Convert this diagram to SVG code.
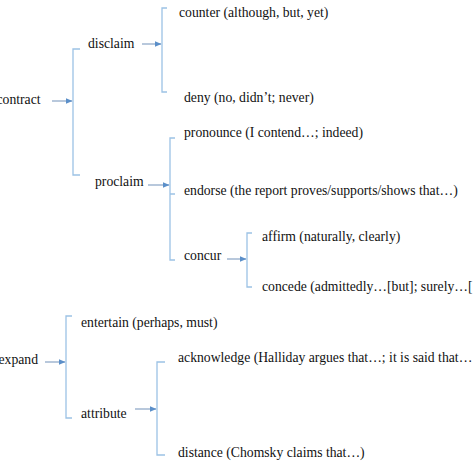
<svg xmlns="http://www.w3.org/2000/svg" width="474" height="474" viewBox="0 0 474 474">
<style>
text{font-family:"Liberation Serif","Times New Roman",serif;font-size:13.7px;fill:#111}
.br{fill:none;stroke:#9cc2e5;stroke-width:1.3}
.ar{fill:none;stroke:#7f9cc0;stroke-width:1.1}
</style>
<defs>
<marker id="ah" markerWidth="7" markerHeight="6" refX="6.5" refY="3" orient="auto" markerUnits="userSpaceOnUse">
<path d="M0,0 L7,3 L0,6 Z" fill="#5b8fc9"/>
</marker>
</defs>
<g id="connectors">
<path class="br" d="M80,49 H73 V175 H80"/>
<path class="br" d="M167,8 H162 V92 H167"/>
<path class="br" d="M175,138 H170 V260 H175 M170,194 H175"/>
<path class="br" d="M252,233 H247 V287 H252"/>
<path class="br" d="M72,316 H66 V418 H72"/>
<path class="br" d="M165,362 H157 V455 H165"/>
<line class="ar" x1="52" y1="101" x2="72" y2="101" marker-end="url(#ah)"/>
<line class="ar" x1="142" y1="44" x2="161" y2="44" marker-end="url(#ah)"/>
<line class="ar" x1="148" y1="185" x2="169" y2="185" marker-end="url(#ah)"/>
<line class="ar" x1="227" y1="259" x2="246" y2="259" marker-end="url(#ah)"/>
<line class="ar" x1="45" y1="362" x2="65" y2="362" marker-end="url(#ah)"/>
<line class="ar" x1="135" y1="409" x2="156" y2="409" marker-end="url(#ah)"/>
</g>
<g id="contract"><text x="-3.5" y="104">contract</text></g>
<g id="disclaim"><text x="88" y="48">disclaim</text></g>
<g id="counter"><text x="179" y="17">counter (although, but, yet)</text></g>
<g id="deny"><text x="184" y="102">deny (no, didn’t; never)</text></g>
<g id="proclaim"><text x="95" y="186">proclaim</text></g>
<g id="pronounce"><text x="184" y="137">pronounce (I contend…; indeed)</text></g>
<g id="endorse"><text x="184" y="195">endorse (the report proves/supports/shows that…)</text></g>
<g id="concur"><text x="184" y="260">concur</text></g>
<g id="affirm"><text x="262" y="241">affirm (naturally, clearly)</text></g>
<g id="concede"><text x="262" y="291">concede (admittedly…[but]; surely…[</text></g>
<g id="expand"><text x="-1.5" y="364">expand</text></g>
<g id="entertain"><text x="81" y="327">entertain (perhaps, must)</text></g>
<g id="attribute"><text x="81" y="418">attribute</text></g>
<g id="acknowledge"><text x="178" y="362">acknowledge (Halliday argues that…; it is said that…</text></g>
<g id="distance"><text x="178" y="457">distance (Chomsky claims that…)</text></g>
</svg>
